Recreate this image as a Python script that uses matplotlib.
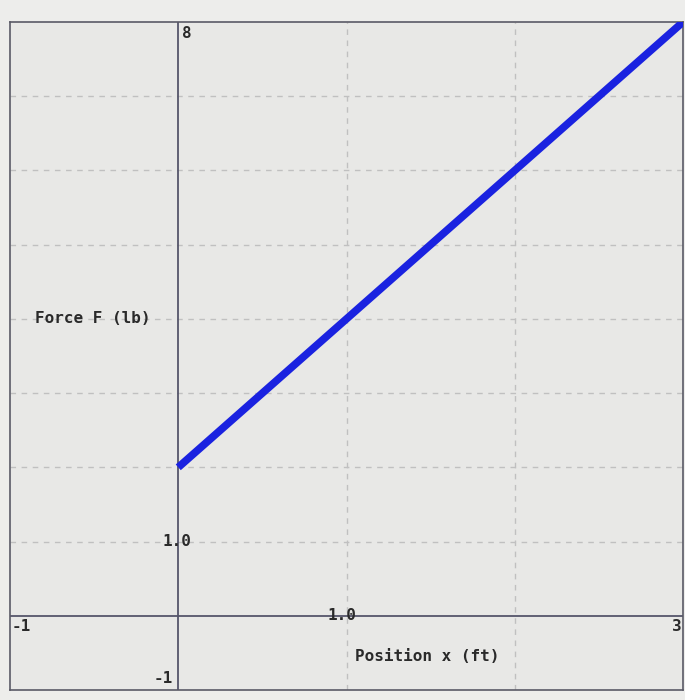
import numpy as np
import matplotlib.pyplot as plt

# data
x_end = [0, 3]
force = [2, 8]
x_grid = [1, 2]
y_grid = [1, 2, 3, 4, 5, 6, 7]

fig = plt.figure(figsize=(6.85, 7), dpi=100, facecolor='#ededeb')
ax = fig.add_axes([10/685, 10/700, 673/685, 668/700])
ax.set_facecolor('#e8e8e6')
ax.set_xlim(-1, 3)
ax.set_ylim(-1, 8)
ax.set_xticks([])
ax.set_yticks([])
for s in ax.spines.values():
    s.set_color('#5a5a66')
    s.set_linewidth(1.2)

for gx in x_grid:
    ax.axvline(gx, color='#c0c0c0', lw=1, ls=(0, (4, 4)), zorder=1)
for gy in y_grid:
    ax.axhline(gy, color='#c0c0c0', lw=1, ls=(0, (4, 4)), zorder=1)

ax.axhline(0, color='#55556a', lw=1.3, zorder=2)
ax.axvline(0, color='#55556a', lw=1.3, zorder=2)

ax.plot(x_end, force, color='#1a22e0', lw=5.5, solid_capstyle='butt', zorder=3)

fnt = dict(family='DejaVu Sans Mono', fontsize=11.5, fontweight='bold', color='#2a2a2a', zorder=4)
ax.text(0.02, 7.95, '8', ha='left', va='top', **fnt)
ax.text(-0.01, 1, '1.0', ha='center', va='center', **fnt)
ax.text(0.97, -0.1, '1.0', ha='center', va='bottom', **fnt)
ax.text(-0.99, -0.04, '-1', ha='left', va='top', **fnt)
ax.text(2.99, -0.04, '3', ha='right', va='top', **fnt)
ax.text(-0.03, -0.95, '-1', ha='right', va='bottom', **fnt)
ax.text(1.05, -0.55, 'Position x (ft)', ha='left', va='center', **fnt)
ax.text(-0.85, 4, 'Force F (lb)', ha='left', va='center', **fnt)

plt.savefig('out.png', dpi=100, facecolor=fig.get_facecolor())
